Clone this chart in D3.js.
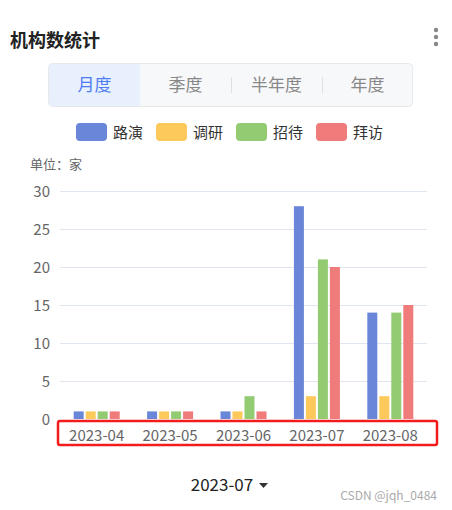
<!DOCTYPE html>
<html><head><meta charset="utf-8">
<script src="https://cdn.jsdelivr.net/npm/d3@7"></script>
<style>
body{margin:0;background:#fff;font-family:"Noto Sans CJK SC","Noto Sans",sans-serif;}
</style></head><body>
<svg id="c" width="452" height="510"></svg>
<script>
const months = ["2023-04", "2023-05", "2023-06", "2023-07", "2023-08"];
const seriesNames = ["路演", "调研", "招待", "拜访"];
const colors = ["#6a86d8", "#fcc95a", "#93cb73", "#ef7b7b"];
const roadshow = [1, 1, 1, 28, 14];
const research = [1, 1, 1, 3, 3];
const hosting = [1, 1, 3, 21, 14];
const visits = [1, 1, 1, 20, 15];
const yTicks = [0, 5, 10, 15, 20, 25, 30];
const tabs = ["月度", "季度", "半年度", "年度"];
const values = [roadshow, research, hosting, visits];

const svg = d3.select("#c");
const font = '"Noto Sans CJK SC","Noto Sans",sans-serif';

// title + menu dots
svg.append("text").attr("x", 10).attr("y", 47).attr("font-size", 18).attr("font-weight", "bold")
  .attr("fill", "#222").attr("font-family", font).text("机构数统计");
[30, 37, 44].forEach(y => svg.append("circle").attr("cx", 436).attr("cy", y).attr("r", 2.2).attr("fill", "#888"));

// tabs
svg.append("rect").attr("x", 48.5).attr("y", 63.5).attr("width", 364).attr("height", 43).attr("rx", 4)
  .attr("fill", "#f7f8fa").attr("stroke", "#e6e8eb");
svg.append("rect").attr("x", 49).attr("y", 64).attr("width", 91).attr("height", 42).attr("rx", 3).attr("fill", "#e8f0fd");
tabs.forEach((t, i) => {
  const cx = 49 + 91 * i + 45.5;
  svg.append("text").attr("x", cx).attr("y", 91).attr("text-anchor", "middle").attr("font-size", 17)
    .attr("font-family", font).attr("fill", i === 0 ? "#4d7cf3" : "#888").text(t);
  if (i >= 2) svg.append("line").attr("x1", 49 + 91 * i + 0.5).attr("x2", 49 + 91 * i + 0.5)
    .attr("y1", 77).attr("y2", 93).attr("stroke", "#dde1e6");
});

// legend
const legX = [76, 156, 236, 316];
seriesNames.forEach((n, i) => {
  svg.append("rect").attr("x", legX[i]).attr("y", 123).attr("width", 31).attr("height", 18).attr("rx", 4).attr("fill", colors[i]);
  svg.append("text").attr("x", legX[i] + 37).attr("y", 138).attr("font-size", 15).attr("font-family", font)
    .attr("fill", "#333").text(n);
});
svg.append("text").attr("x", 30).attr("y", 169).attr("font-size", 13).attr("font-family", font)
  .attr("fill", "#666").text("单位：家");

// chart
const x0 = d3.scaleBand().domain(months).range([60, 427]);
const y = d3.scaleLinear().domain([0, 30]).range([419, 191]);
const g = svg.append("g");
yTicks.forEach(t => {
  if (t > 0) g.append("line").attr("x1", 60).attr("x2", 427).attr("y1", y(t) + 0.5).attr("y2", y(t) + 0.5)
    .attr("stroke", "#e0e6f1");
  g.append("text").attr("x", 50).attr("y", y(t) + 6).attr("text-anchor", "end").attr("font-size", 15)
    .attr("font-family", font).attr("fill", "#666").text(t);
});
const bw = 10, gap = 2;
months.forEach((m, j) => {
  const c = x0(m) + x0.bandwidth() / 2;
  values.forEach((s, i) => {
    const bx = c - (4 * bw + 3 * gap) / 2 + i * (bw + gap);
    g.append("rect").attr("x", bx).attr("y", y(s[j])).attr("width", bw).attr("height", y(0) - y(s[j]))
      .attr("fill", colors[i]);
  });
  g.append("text").attr("x", c).attr("y", 441).attr("text-anchor", "middle").attr("font-size", 15)
    .attr("font-family", font).attr("fill", "#666").text(m);
});
g.append("rect").attr("x", 58).attr("y", 421).attr("width", 379).attr("height", 24).attr("rx", 2)
  .attr("fill", "none").attr("stroke", "#f21c1c").attr("stroke-width", 2.5);

// selector
svg.append("text").attr("x", 222).attr("y", 491).attr("text-anchor", "middle").attr("font-size", 17)
  .attr("font-family", font).attr("fill", "#222").text("2023-07");
svg.append("path").attr("d", "M259,483 l9,0 l-4.5,5 z").attr("fill", "#333");
svg.append("text").attr("x", 437).attr("y", 500).attr("text-anchor", "end").attr("font-size", 12)
  .attr("font-family", font).attr("fill", "#aaa").text("CSDN @jqh_0484");
</script></body></html>
